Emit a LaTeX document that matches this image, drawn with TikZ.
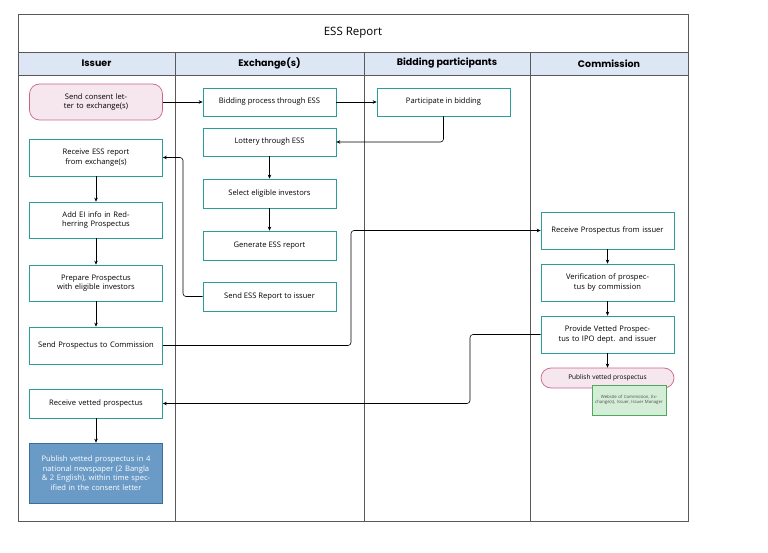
\documentclass[tikz,border=0pt]{standalone}
\usepackage{fontspec}
\setmainfont{Open Sans}
\newfontfamily\hdr{Poppins}
\usetikzlibrary{arrows.meta}
\definecolor{teal1}{HTML}{2A9D9A}
\definecolor{pinkf}{HTML}{F6E6EE}
\definecolor{pinkd}{HTML}{C8648C}
\definecolor{hdrf}{HTML}{DCE6F4}
\definecolor{bluef}{HTML}{6A9BC6}
\definecolor{blued}{HTML}{3E6E9A}
\definecolor{greenf}{HTML}{D3EDD6}
\definecolor{greend}{HTML}{4FA860}
\begin{document}
\begin{tikzpicture}[x=1pt,y=-1pt,
  box/.style={draw=teal1,fill=white,line width=0.7pt,align=center,font=\fontsize{7.6}{9.5}\selectfont,inner sep=1pt,minimum width=133pt},
  pill/.style={box,draw=pinkd,fill=pinkf,rounded corners=10pt},
  arr/.style={-{Stealth[length=4pt,width=3.5pt]},line width=0.6pt,rounded corners=3pt},
  hd/.style={font=\hdr\bfseries\fontsize{9.5}{11}\selectfont}]
\useasboundingbox (0,0) rectangle (768,553);
% frame
\fill[hdrf] (18,52) rectangle (688,75);
\draw[line width=0.7pt,gray!70!black] (18,14) rectangle (688,521);
\draw[line width=0.7pt,gray!70!black] (18,52) -- (688,52) (18,75) -- (688,75);
\foreach \x in {175,364,530} \draw[line width=0.7pt,gray!70!black] (\x,52) -- (\x,521);
\node[font=\fontsize{11.5}{13}\selectfont] (title) at (353,33) {ESS Report};
\node[hd] (h1) at (96.5,63.5) {Issuer};
\node[hd] (h2) at (269.5,63.5) {Exchange(s)};
\node[hd] (h3) at (447,63.5) {Bidding participants};
\node[hd] (h4) at (609,63.5) {Commission};
% issuer
\node[pill,minimum height=36pt,text width=110pt] (i0) at (96,102) {Send consent letter to exchange(s)};
\node[box,minimum height=37pt,text width=120pt] (i1) at (96,157.5) {Receive ESS report from exchange(s)};
\node[box,minimum height=36pt,text width=120pt] (i2) at (96,220) {Add EI info in Red-herring Prospectus};
\node[box,minimum height=36pt,text width=120pt] (i3) at (96,283) {Prepare Prospectus with eligible investors};
\node[box,minimum height=37pt,text width=120pt] (i4) at (96,345.5) {Send Prospectus to Commission};
\node[box,minimum height=29pt,text width=120pt] (i5) at (96,403.5) {Receive vetted prospectus};
\node[box,draw=blued,fill=bluef,text=white,minimum height=60pt,text width=128pt] (i6) at (96,473) {Publish vetted prospectus in 4 national newspaper (2 Bangla \& 2 English), within time specified in the consent letter};
% exchange
\node[box,minimum height=28pt] (e1) at (269.5,102) {Bidding process through ESS};
\node[box,minimum height=28pt] (e2) at (269.5,142) {Lottery through ESS};
\node[box,minimum height=29pt] (e3) at (269.5,193.5) {Select eligible investors};
\node[box,minimum height=29pt] (e4) at (269.5,245.5) {Generate ESS report};
\node[box,minimum height=29pt] (e5) at (269.5,296.5) {Send ESS Report to issuer};
% bidding
\node[box,minimum height=28pt] (b1) at (443.5,102) {Participate in bidding};
% commission
\node[box,minimum height=37pt,text width=120pt] (c1) at (607.5,230.5) {Receive Prospectus from issuer};
\node[box,minimum height=37pt,text width=120pt] (c2) at (607.5,282.5) {Verification of prospectus by commission};
\node[box,minimum height=37pt,text width=125pt] (c3) at (607.5,334.5) {Provide Vetted Prospectus to IPO dept. and issuer};
\node[pill,minimum height=20pt,font=\fontsize{6.5}{8}\selectfont] (c4) at (607.5,378) {Publish vetted prospectus};
\node[box,draw=greend,fill=greenf,minimum width=74pt,minimum height=30pt,text width=70pt,font=\fontsize{4.3}{5.5}\selectfont,text=black!70] (n1) at (629,400) {Website of Commission, Exchange(s), Issuer, Issuer Manager};
% arrows
\draw[arr] (i0) -- (e1);
\draw[arr] (e1) -- (b1);
\draw[arr] (b1.south) |- (e2.east);
\draw[arr] (e2) -- (e3);
\draw[arr] (e3) -- (e4);
\draw[arr] (e5.west) -- (183,296.5) -- (183,157.5) -- (i1.east);
\draw[arr] (i1) -- (i2);
\draw[arr] (i2) -- (i3);
\draw[arr] (i3) -- (i4);
\draw[arr] (i5) -- (i6);
\draw[arr] (i4.east) -- (351,345.5) -- (351,230.5) -- (c1.west);
\draw[arr] (c1) -- (c2);
\draw[arr] (c2) -- (c3);
\draw[arr] (c3) -- (c4);
\draw[arr] (c3.west) -- (470,334.5) -- (470,403.5) -- (i5.east);
\end{tikzpicture}
\end{document}
